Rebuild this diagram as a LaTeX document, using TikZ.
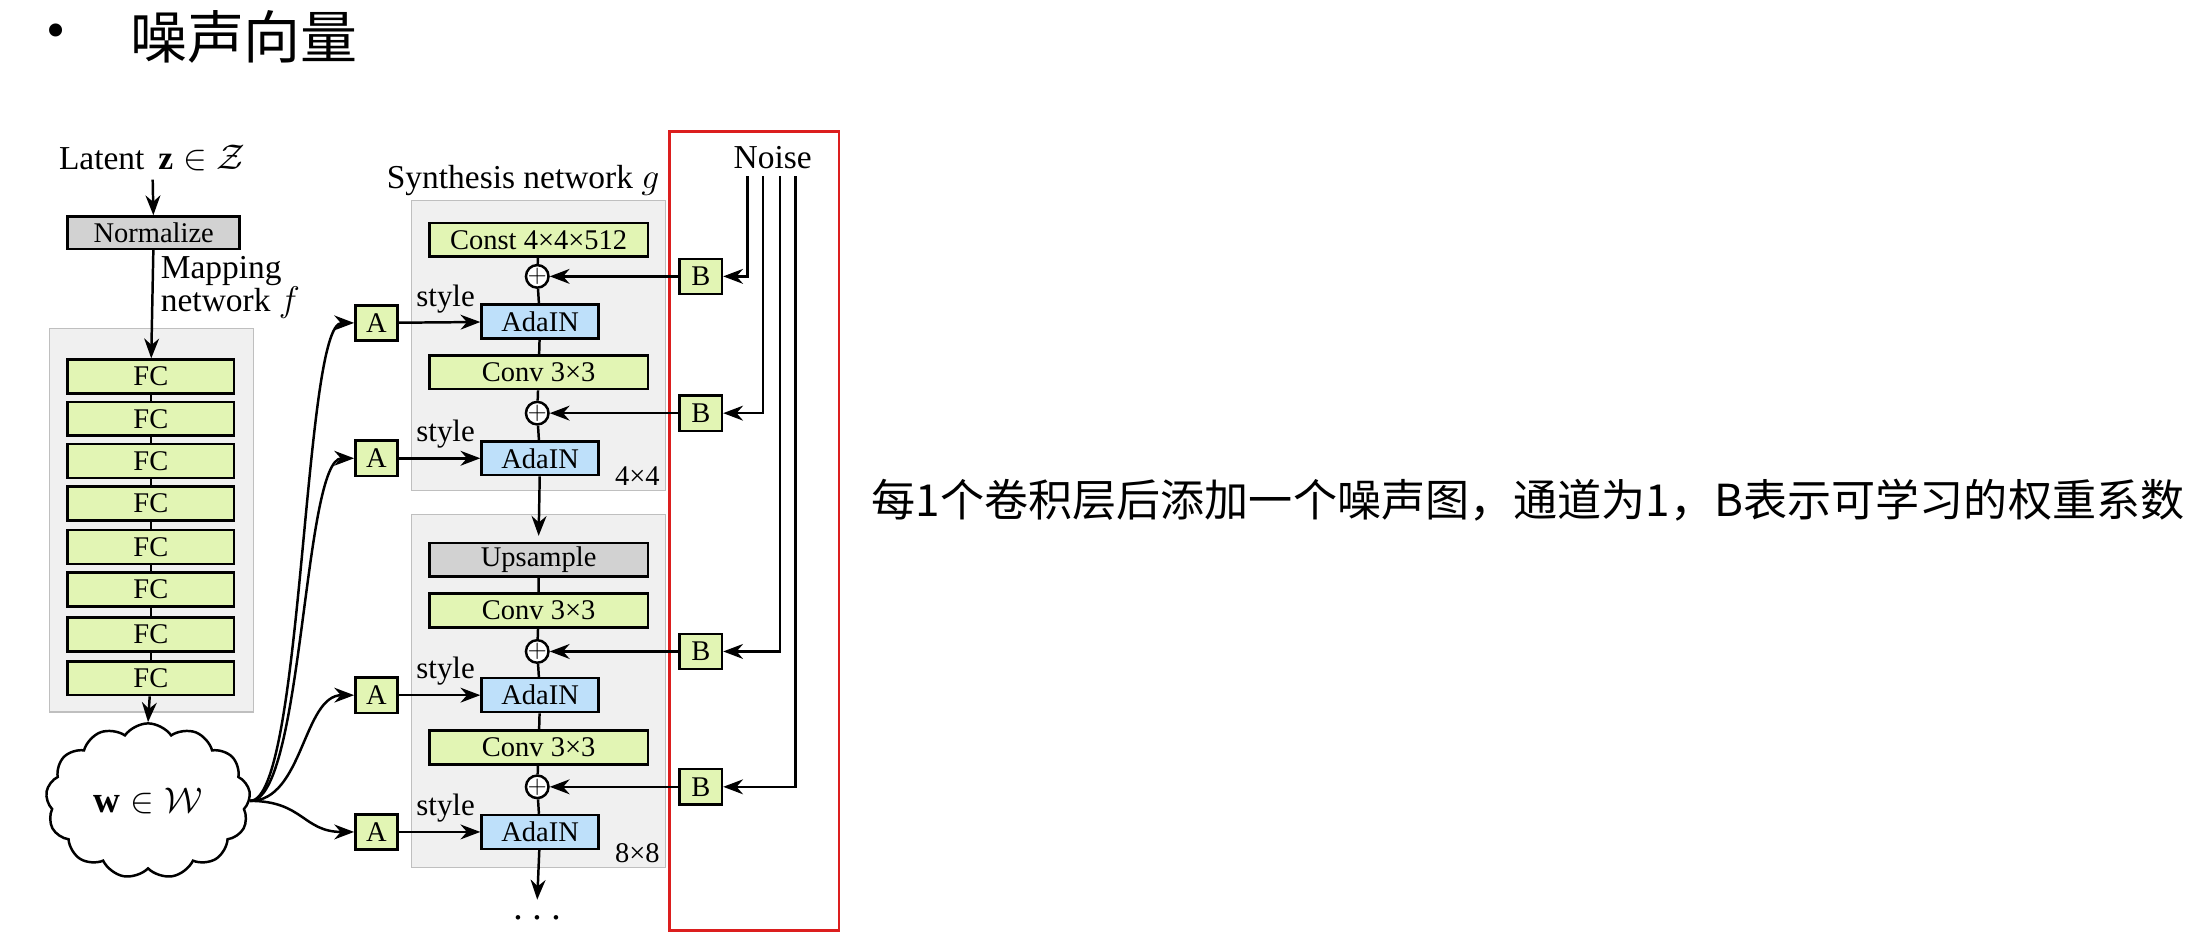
\documentclass[tikz,border=0pt]{standalone}
\usepackage{fontspec}
\setmainfont{Liberation Serif}
\newfontfamily\cjk{Noto Sans CJK SC}
\usetikzlibrary{shapes.symbols,arrows.meta}
\definecolor{fcg}{RGB}{226,245,180}
\definecolor{adab}{RGB}{190,224,250}
\definecolor{panel}{RGB}{240,240,240}
\definecolor{redb}{RGB}{220,30,30}
\tikzset{
 every node/.style={font=\fontsize{11.5}{12}\selectfont},
 bx/.style={draw,line width=1pt,minimum height=0.48cm,inner sep=0pt},
 fc/.style={bx,fill=fcg,minimum width=2.36cm},
 wide/.style={bx,fill=fcg,minimum width=3.1cm},
 ada/.style={bx,fill=adab,minimum width=1.66cm},
 sq/.style={bx,fill=fcg,minimum width=0.6cm,minimum height=0.5cm},
 plus/.style={draw,circle,line width=1pt,fill=white,minimum size=0.32cm,inner sep=0pt},
 pan/.style={draw=gray!50,fill=panel,line width=0.5pt},
 ar/.style={-{Stealth[length=8pt,width=6pt]},line width=1pt},
 ln/.style={line width=1pt}
}
\begin{document}
\begin{tikzpicture}[x=0.02cm,y=-0.02cm]
\useasboundingbox (0,0) rectangle (1568,665);
\fill[white] (0,0) rectangle (1568,665);
\node[font=\fontsize{22}{24}\selectfont] (bul) at (40,26) {•};
\node[anchor=west,font=\cjk\fontsize{23}{25}\selectfont] (title) at (86,26) {噪声向量};
% mapping
\node[font=\fontsize{13.5}{14}\selectfont] (lat) at (108,112) {Latent \,$\mathbf{z}\in\mathcal{Z}$};
\node[bx,fill=gray!35,minimum width=2.44cm,minimum height=0.46cm] (norm) at (109,165) {Normalize};
\draw[ar] (lat) -- (norm);
\node[anchor=north west,align=left,font=\fontsize{13.5}{13}\selectfont,inner sep=1pt] (mn) at (112,180) {Mapping\\network $f$};
\draw[pan] (35,233) rectangle (180,505);
\foreach \i/\y in {1/267,2/297,3/327,4/357,5/388,6/418,7/450,8/481}{
  \node[fc] (fc\i) at (107,\y) {FC};
}
\foreach \i [evaluate=\i as \j using int(\i+1)] in {1,...,7}{ \draw[ln] (fc\i) -- (fc\j); }
\draw[ar] (norm) -- (fc1);
\node[cloud,draw,cloud puffs=13,cloud puff arc=110,aspect=1.4,line width=1pt,minimum width=2.9cm,minimum height=2.2cm,font=\fontsize{15}{16}\selectfont] (w) at (105,568) {$\mathbf{w}\in\mathcal{W}$};
\draw[ar] (fc8) -- (w.north);
% synthesis
\node[anchor=west,font=\fontsize{13.5}{14}\selectfont,inner sep=0pt] (syn) at (274,128) {Synthesis network $g$};
\draw[pan] (292,142) rectangle (472,348);
\draw[pan] (292,365) rectangle (472,615);
\node[wide] (const) at (382,170) {Const 4×4×512};
\node[plus] (p1) at (381,196) {};
\node[ada] (ad1) at (383,228) {AdaIN};
\node[wide] (cv1) at (382,264) {Conv 3×3};
\node[plus] (p2) at (381,293) {};
\node[ada] (ad2) at (383,325) {AdaIN};
\node[bx,fill=gray!35,minimum width=3.1cm] (up) at (382,397) {Upsample};
\node[wide] (cv2) at (382,433) {Conv 3×3};
\node[plus] (p3) at (381,462) {};
\node[ada] (ad3) at (383,493) {AdaIN};
\node[wide] (cv3) at (382,530) {Conv 3×3};
\node[plus] (p4) at (381,558) {};
\node[ada] (ad4) at (383,590) {AdaIN};
\foreach \p in {p1,p2,p3,p4}{\node[font=\fontsize{10}{10}\selectfont,inner sep=0pt] at (\p) {$+$};}
\draw[ln] (const) -- (p1) -- (ad1) -- (cv1) -- (p2) -- (ad2);
\draw[ln] (up) -- (cv2) -- (p3) -- (ad3) -- (cv3) -- (p4) -- (ad4);
\draw[ar] (ad2) -- (382,380) coordinate (u);
\coordinate (dend) at (381,638);
\draw[ar] (ad4) -- (dend);
\node[font=\fontsize{16}{16}\selectfont] (dots) at (381,652) {$\cdots$};
\node (s44) at (452,338) {4×4};
\node (s88) at (452,605) {8×8};
\foreach \k/\y in {1/229,2/325,3/493,4/590}{
  \node[sq] (a\k) at (267,\y) {A};
  \draw[ar] (a\k) -- (ad\k);
  \node[anchor=south,inner sep=1pt,font=\fontsize{12.5}{13}\selectfont] at (316,\y-5) {style};
  \draw[ar] (w.east) .. controls (215,568) and (215,\y) .. (a\k.west);
}
% noise
\draw[redb,line width=1.2pt] (475,93) rectangle (595,660);
\node[font=\fontsize{13.5}{14}\selectfont] (noise) at (548,112) {Noise};
\foreach \k/\y/\x in {1/196/530,2/293/541,3/462/553,4/558/564}{
  \node[sq] (b\k) at (497,\y) {B};
  \draw[ar] (b\k) -- (p\k);
  \draw[ar] (\x,125) -- (\x,\y) -- (b\k.east);
}
\node[anchor=west,font=\cjk\fontsize{17.8}{19}\selectfont] (desc) at (612,355) {每1个卷积层后添加一个噪声图，通道为1，B表示可学习的权重系数};
\end{tikzpicture}
\end{document}
